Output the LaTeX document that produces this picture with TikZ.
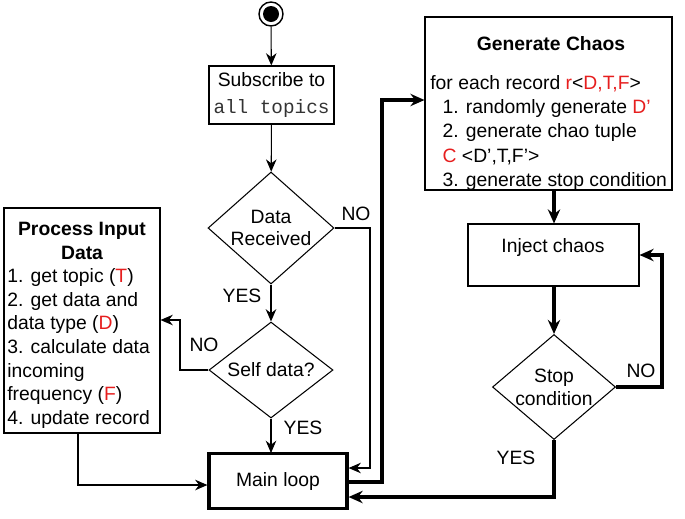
\documentclass[tikz,border=0pt]{standalone}
\usepackage{fontspec}
\setmainfont{Liberation Sans}
\setmonofont{Liberation Mono}
\usetikzlibrary{shapes.geometric,arrows.meta}
\definecolor{rd}{RGB}{230,30,30}
\begin{document}
\begin{tikzpicture}[x=0.02cm,y=-0.02cm,
  box/.style={draw,line width=0.6pt,inner sep=0pt},
  dia/.style={draw,diamond,line width=0.6pt,inner sep=0pt,aspect=1.25,minimum width=124*0.02cm,minimum height=112*0.02cm,align=center},
  ar/.style={line width=0.6pt,-{Stealth[length=7pt,width=6pt]}},
  thk/.style={line width=1.8pt,-{Stealth[length=8pt,width=7pt]}},
  lab/.style={font=\fontsize{11}{13}\selectfont},
  font=\fontsize{11}{13}\selectfont]
\useasboundingbox (0,0) rectangle (685,518);
% start
\node (st) [circle,draw,line width=0.8pt,minimum size=24*0.02cm,inner sep=0pt] at (271,14) {};
\fill (271,14) circle (8);
\node (sub) [box,minimum width=125*0.02cm,minimum height=58*0.02cm,align=center] at (271.5,95) {Subscribe to\\[2pt]{\ttfamily\color{black!80} all topics}};
\node (dr) [dia] at (271,228) {Data\\Received};
\node (sd) [dia,minimum height=96*0.02cm] at (271,370) {Self data?};
\node (ml) [box,line width=1.8pt,minimum width=138*0.02cm,minimum height=55*0.02cm] at (278,481) {Main loop};
\node (pi) [box,minimum width=156*0.02cm,minimum height=225*0.02cm] at (82,320.5) {};
\node [align=center,anchor=north,inner sep=0pt,font=\fontsize{11}{13.5}\selectfont\bfseries] at (82,222) {Process Input\\Data};
\node [align=left,anchor=north west,inner sep=0pt,font=\fontsize{11}{13.5}\selectfont] at (7,268) {1. get topic ({\color{rd}T})\\2. get data and\\data type ({\color{rd}D})\\3. calculate data\\incoming\\frequency ({\color{rd}F})\\4. update record};
\node (gc) [box,minimum width=247*0.02cm,minimum height=173*0.02cm] at (548.5,103.5) {};
\node [anchor=north] at (551,30) {\textbf{Generate Chaos}};
\node [align=left,anchor=north west,inner sep=0pt,font=\fontsize{11}{13.8}\selectfont] at (430,75) {for each record {\color{rd}r}<{\color{rd}D,T,F}>\\
\hspace*{7pt}1. randomly generate {\color{rd}D'}\\
\hspace*{7pt}2. generate chao tuple\\
\hspace*{7pt}{\color{rd}C} <D',T,F'>\\
\hspace*{7pt}3. generate stop condition};
\node (ic) [box,minimum width=171*0.02cm,minimum height=62*0.02cm] at (553.5,255) {};
\node at (553,247) {Inject chaos};
\node (sc) [dia,minimum width=120*0.02cm,minimum height=105*0.02cm] at (554,387) {Stop\\condition};
% connectors
\draw[ar] (st) -- (sub);
\draw[ar] (sub) -- (dr);
\draw[ar] (dr) -- (sd);
\node[lab] at (242,296) {YES};
\draw[ar] (dr.east) -- (370,228) -- (370,468) -- (ml.east|-0,468);
\node[lab] at (356,214) {NO};
\draw[ar] (sd) -- (271,453);
\node[lab] at (303,428) {YES};
\draw[ar] (sd.west) -- (180,370) -- (180,320) -- (pi.east|-0,320);
\node[lab] at (204,345) {NO};
\draw[ar] (78,433) -- (78,485) -- (ml.west|-0,485);
\draw[thk] (ml.east|-0,482) -- (382,482) -- (382,100) -- (gc.west|-0,100);
\draw[thk] (gc.south-|554,0) -- (ic.north-|554,0);
\draw[thk] (ic.south-|554,0) -- (sc.north);
\draw[thk] (sc.east) -- (662,387) -- (662,255) -- (ic.east);
\node[lab] at (641,371) {NO};
\draw[thk] (sc.south) -- (554,497) -- (ml.east|-0,497);
\node[lab] at (516,458) {YES};
\end{tikzpicture}
\end{document}
